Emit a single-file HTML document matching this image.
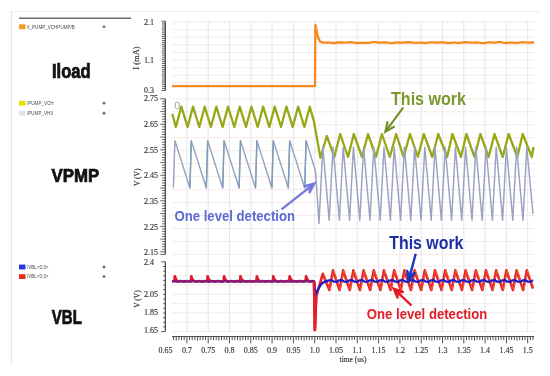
<!DOCTYPE html><html><head><meta charset="utf-8"><style>
html,body{margin:0;padding:0;background:#fff;width:550px;height:376px;overflow:hidden}
svg{display:block;filter:blur(0.3px)}
.big{font-family:"Liberation Sans",sans-serif;font-weight:bold;fill:#111;stroke:#111;stroke-width:0.75px}
.ann{font-family:"Liberation Sans",sans-serif;font-weight:bold}
.tk{font-family:"Liberation Serif",serif;font-size:8px;fill:#333;stroke:#333;stroke-width:0.15px}
.lg{font-family:"Liberation Sans",sans-serif;font-size:5.3px;fill:#4a4a4a}
</style></head><body>
<svg width="550" height="376" viewBox="0 0 550 376">
<line x1="11" y1="11.5" x2="540" y2="11.5" stroke="#eef0f2" stroke-width="1"/>
<line x1="11.5" y1="11" x2="11.5" y2="364" stroke="#e2e5ee" stroke-width="1.2"/>
<line x1="172.0" y1="22.0" x2="535.0" y2="22.0" stroke="#f6e2e2" stroke-width="0.8"/><line x1="172.0" y1="29.6" x2="535.0" y2="29.6" stroke="#f6e2e2" stroke-width="0.8"/><line x1="172.0" y1="37.2" x2="535.0" y2="37.2" stroke="#f6e2e2" stroke-width="0.8"/><line x1="172.0" y1="44.8" x2="535.0" y2="44.8" stroke="#f6e2e2" stroke-width="0.8"/><line x1="172.0" y1="52.5" x2="535.0" y2="52.5" stroke="#f6e2e2" stroke-width="0.8"/><line x1="172.0" y1="60.1" x2="535.0" y2="60.1" stroke="#f6e2e2" stroke-width="0.8"/><line x1="172.0" y1="67.7" x2="535.0" y2="67.7" stroke="#f6e2e2" stroke-width="0.8"/><line x1="172.0" y1="75.3" x2="535.0" y2="75.3" stroke="#f6e2e2" stroke-width="0.8"/><line x1="172.0" y1="82.9" x2="535.0" y2="82.9" stroke="#f6e2e2" stroke-width="0.8"/><line x1="172.0" y1="98.8" x2="535.0" y2="98.8" stroke="#f6e2e2" stroke-width="0.8"/><line x1="172.0" y1="111.8" x2="535.0" y2="111.8" stroke="#f6e2e2" stroke-width="0.8"/><line x1="172.0" y1="124.7" x2="535.0" y2="124.7" stroke="#f6e2e2" stroke-width="0.8"/><line x1="172.0" y1="137.7" x2="535.0" y2="137.7" stroke="#f6e2e2" stroke-width="0.8"/><line x1="172.0" y1="150.7" x2="535.0" y2="150.7" stroke="#f6e2e2" stroke-width="0.8"/><line x1="172.0" y1="163.6" x2="535.0" y2="163.6" stroke="#f6e2e2" stroke-width="0.8"/><line x1="172.0" y1="176.6" x2="535.0" y2="176.6" stroke="#f6e2e2" stroke-width="0.8"/><line x1="172.0" y1="189.6" x2="535.0" y2="189.6" stroke="#f6e2e2" stroke-width="0.8"/><line x1="172.0" y1="202.5" x2="535.0" y2="202.5" stroke="#f6e2e2" stroke-width="0.8"/><line x1="172.0" y1="215.5" x2="535.0" y2="215.5" stroke="#f6e2e2" stroke-width="0.8"/><line x1="172.0" y1="228.5" x2="535.0" y2="228.5" stroke="#f6e2e2" stroke-width="0.8"/><line x1="172.0" y1="241.4" x2="535.0" y2="241.4" stroke="#f6e2e2" stroke-width="0.8"/><line x1="172.0" y1="254.4" x2="535.0" y2="254.4" stroke="#f6e2e2" stroke-width="0.8"/><line x1="172.0" y1="331.6" x2="535.0" y2="331.6" stroke="#f6e2e2" stroke-width="0.8"/><line x1="172.0" y1="322.3" x2="535.0" y2="322.3" stroke="#f6e2e2" stroke-width="0.8"/><line x1="172.0" y1="312.9" x2="535.0" y2="312.9" stroke="#f6e2e2" stroke-width="0.8"/><line x1="172.0" y1="303.6" x2="535.0" y2="303.6" stroke="#f6e2e2" stroke-width="0.8"/><line x1="172.0" y1="294.3" x2="535.0" y2="294.3" stroke="#f6e2e2" stroke-width="0.8"/><line x1="172.0" y1="285.0" x2="535.0" y2="285.0" stroke="#f6e2e2" stroke-width="0.8"/><line x1="172.0" y1="275.6" x2="535.0" y2="275.6" stroke="#f6e2e2" stroke-width="0.8"/><line x1="172.0" y1="266.3" x2="535.0" y2="266.3" stroke="#f6e2e2" stroke-width="0.8"/><line x1="186.9" y1="21.0" x2="186.9" y2="332.1" stroke="#dde1ea" stroke-width="0.8"/><line x1="208.2" y1="21.0" x2="208.2" y2="332.1" stroke="#dde1ea" stroke-width="0.8"/><line x1="229.5" y1="21.0" x2="229.5" y2="332.1" stroke="#dde1ea" stroke-width="0.8"/><line x1="250.8" y1="21.0" x2="250.8" y2="332.1" stroke="#dde1ea" stroke-width="0.8"/><line x1="272.1" y1="21.0" x2="272.1" y2="332.1" stroke="#dde1ea" stroke-width="0.8"/><line x1="293.4" y1="21.0" x2="293.4" y2="332.1" stroke="#dde1ea" stroke-width="0.8"/><line x1="314.7" y1="21.0" x2="314.7" y2="332.1" stroke="#dde1ea" stroke-width="0.8"/><line x1="336.0" y1="21.0" x2="336.0" y2="332.1" stroke="#dde1ea" stroke-width="0.8"/><line x1="357.3" y1="21.0" x2="357.3" y2="332.1" stroke="#dde1ea" stroke-width="0.8"/><line x1="378.6" y1="21.0" x2="378.6" y2="332.1" stroke="#dde1ea" stroke-width="0.8"/><line x1="399.9" y1="21.0" x2="399.9" y2="332.1" stroke="#dde1ea" stroke-width="0.8"/><line x1="421.2" y1="21.0" x2="421.2" y2="332.1" stroke="#dde1ea" stroke-width="0.8"/><line x1="442.5" y1="21.0" x2="442.5" y2="332.1" stroke="#dde1ea" stroke-width="0.8"/><line x1="463.8" y1="21.0" x2="463.8" y2="332.1" stroke="#dde1ea" stroke-width="0.8"/><line x1="485.1" y1="21.0" x2="485.1" y2="332.1" stroke="#dde1ea" stroke-width="0.8"/><line x1="506.4" y1="21.0" x2="506.4" y2="332.1" stroke="#dde1ea" stroke-width="0.8"/><line x1="527.7" y1="21.0" x2="527.7" y2="332.1" stroke="#dde1ea" stroke-width="0.8"/>
<line x1="165.3" y1="21.2" x2="165.3" y2="90.5" stroke="#333" stroke-width="1.1"/><line x1="161.5" y1="21.2" x2="165.3" y2="21.2" stroke="#3a3a3a" stroke-width="0.8"/><line x1="162.0" y1="23.1" x2="165.3" y2="23.1" stroke="#3a3a3a" stroke-width="0.8"/><line x1="162.0" y1="25.0" x2="165.3" y2="25.0" stroke="#3a3a3a" stroke-width="0.8"/><line x1="162.0" y1="27.0" x2="165.3" y2="27.0" stroke="#3a3a3a" stroke-width="0.8"/><line x1="161.5" y1="28.9" x2="165.3" y2="28.9" stroke="#3a3a3a" stroke-width="0.8"/><line x1="162.0" y1="30.8" x2="165.3" y2="30.8" stroke="#3a3a3a" stroke-width="0.8"/><line x1="162.0" y1="32.8" x2="165.3" y2="32.8" stroke="#3a3a3a" stroke-width="0.8"/><line x1="162.0" y1="34.7" x2="165.3" y2="34.7" stroke="#3a3a3a" stroke-width="0.8"/><line x1="161.5" y1="36.6" x2="165.3" y2="36.6" stroke="#3a3a3a" stroke-width="0.8"/><line x1="162.0" y1="38.5" x2="165.3" y2="38.5" stroke="#3a3a3a" stroke-width="0.8"/><line x1="162.0" y1="40.5" x2="165.3" y2="40.5" stroke="#3a3a3a" stroke-width="0.8"/><line x1="162.0" y1="42.4" x2="165.3" y2="42.4" stroke="#3a3a3a" stroke-width="0.8"/><line x1="161.5" y1="44.3" x2="165.3" y2="44.3" stroke="#3a3a3a" stroke-width="0.8"/><line x1="162.0" y1="46.2" x2="165.3" y2="46.2" stroke="#3a3a3a" stroke-width="0.8"/><line x1="162.0" y1="48.1" x2="165.3" y2="48.1" stroke="#3a3a3a" stroke-width="0.8"/><line x1="162.0" y1="50.1" x2="165.3" y2="50.1" stroke="#3a3a3a" stroke-width="0.8"/><line x1="161.5" y1="52.0" x2="165.3" y2="52.0" stroke="#3a3a3a" stroke-width="0.8"/><line x1="162.0" y1="53.9" x2="165.3" y2="53.9" stroke="#3a3a3a" stroke-width="0.8"/><line x1="162.0" y1="55.8" x2="165.3" y2="55.8" stroke="#3a3a3a" stroke-width="0.8"/><line x1="162.0" y1="57.8" x2="165.3" y2="57.8" stroke="#3a3a3a" stroke-width="0.8"/><line x1="161.5" y1="59.7" x2="165.3" y2="59.7" stroke="#3a3a3a" stroke-width="0.8"/><line x1="162.0" y1="61.6" x2="165.3" y2="61.6" stroke="#3a3a3a" stroke-width="0.8"/><line x1="162.0" y1="63.5" x2="165.3" y2="63.5" stroke="#3a3a3a" stroke-width="0.8"/><line x1="162.0" y1="65.5" x2="165.3" y2="65.5" stroke="#3a3a3a" stroke-width="0.8"/><line x1="161.5" y1="67.4" x2="165.3" y2="67.4" stroke="#3a3a3a" stroke-width="0.8"/><line x1="162.0" y1="69.3" x2="165.3" y2="69.3" stroke="#3a3a3a" stroke-width="0.8"/><line x1="162.0" y1="71.2" x2="165.3" y2="71.2" stroke="#3a3a3a" stroke-width="0.8"/><line x1="162.0" y1="73.2" x2="165.3" y2="73.2" stroke="#3a3a3a" stroke-width="0.8"/><line x1="161.5" y1="75.1" x2="165.3" y2="75.1" stroke="#3a3a3a" stroke-width="0.8"/><line x1="162.0" y1="77.0" x2="165.3" y2="77.0" stroke="#3a3a3a" stroke-width="0.8"/><line x1="162.0" y1="79.0" x2="165.3" y2="79.0" stroke="#3a3a3a" stroke-width="0.8"/><line x1="162.0" y1="80.9" x2="165.3" y2="80.9" stroke="#3a3a3a" stroke-width="0.8"/><line x1="161.5" y1="82.8" x2="165.3" y2="82.8" stroke="#3a3a3a" stroke-width="0.8"/><line x1="162.0" y1="84.7" x2="165.3" y2="84.7" stroke="#3a3a3a" stroke-width="0.8"/><line x1="162.0" y1="86.6" x2="165.3" y2="86.6" stroke="#3a3a3a" stroke-width="0.8"/><line x1="162.0" y1="88.6" x2="165.3" y2="88.6" stroke="#3a3a3a" stroke-width="0.8"/><line x1="161.5" y1="90.5" x2="165.3" y2="90.5" stroke="#3a3a3a" stroke-width="0.8"/>
<line x1="165.3" y1="98.8" x2="165.3" y2="254.4" stroke="#333" stroke-width="1.1"/><line x1="160.3" y1="98.8" x2="165.3" y2="98.8" stroke="#3a3a3a" stroke-width="0.8"/><line x1="162.1" y1="101.4" x2="165.3" y2="101.4" stroke="#3a3a3a" stroke-width="0.8"/><line x1="162.1" y1="103.9" x2="165.3" y2="103.9" stroke="#3a3a3a" stroke-width="0.8"/><line x1="162.1" y1="106.5" x2="165.3" y2="106.5" stroke="#3a3a3a" stroke-width="0.8"/><line x1="162.1" y1="109.0" x2="165.3" y2="109.0" stroke="#3a3a3a" stroke-width="0.8"/><line x1="160.3" y1="111.6" x2="165.3" y2="111.6" stroke="#3a3a3a" stroke-width="0.8"/><line x1="162.1" y1="114.1" x2="165.3" y2="114.1" stroke="#3a3a3a" stroke-width="0.8"/><line x1="162.1" y1="116.7" x2="165.3" y2="116.7" stroke="#3a3a3a" stroke-width="0.8"/><line x1="162.1" y1="119.2" x2="165.3" y2="119.2" stroke="#3a3a3a" stroke-width="0.8"/><line x1="162.1" y1="121.8" x2="165.3" y2="121.8" stroke="#3a3a3a" stroke-width="0.8"/><line x1="160.3" y1="124.3" x2="165.3" y2="124.3" stroke="#3a3a3a" stroke-width="0.8"/><line x1="162.1" y1="126.9" x2="165.3" y2="126.9" stroke="#3a3a3a" stroke-width="0.8"/><line x1="162.1" y1="129.4" x2="165.3" y2="129.4" stroke="#3a3a3a" stroke-width="0.8"/><line x1="162.1" y1="132.0" x2="165.3" y2="132.0" stroke="#3a3a3a" stroke-width="0.8"/><line x1="162.1" y1="134.5" x2="165.3" y2="134.5" stroke="#3a3a3a" stroke-width="0.8"/><line x1="160.3" y1="137.1" x2="165.3" y2="137.1" stroke="#3a3a3a" stroke-width="0.8"/><line x1="162.1" y1="139.6" x2="165.3" y2="139.6" stroke="#3a3a3a" stroke-width="0.8"/><line x1="162.1" y1="142.2" x2="165.3" y2="142.2" stroke="#3a3a3a" stroke-width="0.8"/><line x1="162.1" y1="144.7" x2="165.3" y2="144.7" stroke="#3a3a3a" stroke-width="0.8"/><line x1="162.1" y1="147.3" x2="165.3" y2="147.3" stroke="#3a3a3a" stroke-width="0.8"/><line x1="160.3" y1="149.8" x2="165.3" y2="149.8" stroke="#3a3a3a" stroke-width="0.8"/><line x1="162.1" y1="152.4" x2="165.3" y2="152.4" stroke="#3a3a3a" stroke-width="0.8"/><line x1="162.1" y1="154.9" x2="165.3" y2="154.9" stroke="#3a3a3a" stroke-width="0.8"/><line x1="162.1" y1="157.5" x2="165.3" y2="157.5" stroke="#3a3a3a" stroke-width="0.8"/><line x1="162.1" y1="160.0" x2="165.3" y2="160.0" stroke="#3a3a3a" stroke-width="0.8"/><line x1="160.3" y1="162.6" x2="165.3" y2="162.6" stroke="#3a3a3a" stroke-width="0.8"/><line x1="162.1" y1="165.1" x2="165.3" y2="165.1" stroke="#3a3a3a" stroke-width="0.8"/><line x1="162.1" y1="167.7" x2="165.3" y2="167.7" stroke="#3a3a3a" stroke-width="0.8"/><line x1="162.1" y1="170.2" x2="165.3" y2="170.2" stroke="#3a3a3a" stroke-width="0.8"/><line x1="162.1" y1="172.8" x2="165.3" y2="172.8" stroke="#3a3a3a" stroke-width="0.8"/><line x1="160.3" y1="175.3" x2="165.3" y2="175.3" stroke="#3a3a3a" stroke-width="0.8"/><line x1="162.1" y1="177.9" x2="165.3" y2="177.9" stroke="#3a3a3a" stroke-width="0.8"/><line x1="162.1" y1="180.4" x2="165.3" y2="180.4" stroke="#3a3a3a" stroke-width="0.8"/><line x1="162.1" y1="183.0" x2="165.3" y2="183.0" stroke="#3a3a3a" stroke-width="0.8"/><line x1="162.1" y1="185.5" x2="165.3" y2="185.5" stroke="#3a3a3a" stroke-width="0.8"/><line x1="160.3" y1="188.1" x2="165.3" y2="188.1" stroke="#3a3a3a" stroke-width="0.8"/><line x1="162.1" y1="190.6" x2="165.3" y2="190.6" stroke="#3a3a3a" stroke-width="0.8"/><line x1="162.1" y1="193.2" x2="165.3" y2="193.2" stroke="#3a3a3a" stroke-width="0.8"/><line x1="162.1" y1="195.7" x2="165.3" y2="195.7" stroke="#3a3a3a" stroke-width="0.8"/><line x1="162.1" y1="198.3" x2="165.3" y2="198.3" stroke="#3a3a3a" stroke-width="0.8"/><line x1="160.3" y1="200.8" x2="165.3" y2="200.8" stroke="#3a3a3a" stroke-width="0.8"/><line x1="162.1" y1="203.4" x2="165.3" y2="203.4" stroke="#3a3a3a" stroke-width="0.8"/><line x1="162.1" y1="205.9" x2="165.3" y2="205.9" stroke="#3a3a3a" stroke-width="0.8"/><line x1="162.1" y1="208.5" x2="165.3" y2="208.5" stroke="#3a3a3a" stroke-width="0.8"/><line x1="162.1" y1="211.0" x2="165.3" y2="211.0" stroke="#3a3a3a" stroke-width="0.8"/><line x1="160.3" y1="213.6" x2="165.3" y2="213.6" stroke="#3a3a3a" stroke-width="0.8"/><line x1="162.1" y1="216.1" x2="165.3" y2="216.1" stroke="#3a3a3a" stroke-width="0.8"/><line x1="162.1" y1="218.7" x2="165.3" y2="218.7" stroke="#3a3a3a" stroke-width="0.8"/><line x1="162.1" y1="221.2" x2="165.3" y2="221.2" stroke="#3a3a3a" stroke-width="0.8"/><line x1="162.1" y1="223.8" x2="165.3" y2="223.8" stroke="#3a3a3a" stroke-width="0.8"/><line x1="160.3" y1="226.3" x2="165.3" y2="226.3" stroke="#3a3a3a" stroke-width="0.8"/><line x1="162.1" y1="228.9" x2="165.3" y2="228.9" stroke="#3a3a3a" stroke-width="0.8"/><line x1="162.1" y1="231.4" x2="165.3" y2="231.4" stroke="#3a3a3a" stroke-width="0.8"/><line x1="162.1" y1="234.0" x2="165.3" y2="234.0" stroke="#3a3a3a" stroke-width="0.8"/><line x1="162.1" y1="236.5" x2="165.3" y2="236.5" stroke="#3a3a3a" stroke-width="0.8"/><line x1="160.3" y1="239.1" x2="165.3" y2="239.1" stroke="#3a3a3a" stroke-width="0.8"/><line x1="162.1" y1="241.6" x2="165.3" y2="241.6" stroke="#3a3a3a" stroke-width="0.8"/><line x1="162.1" y1="244.2" x2="165.3" y2="244.2" stroke="#3a3a3a" stroke-width="0.8"/><line x1="162.1" y1="246.7" x2="165.3" y2="246.7" stroke="#3a3a3a" stroke-width="0.8"/><line x1="162.1" y1="249.3" x2="165.3" y2="249.3" stroke="#3a3a3a" stroke-width="0.8"/><line x1="160.3" y1="251.8" x2="165.3" y2="251.8" stroke="#3a3a3a" stroke-width="0.8"/><line x1="160.3" y1="254.4" x2="165.3" y2="254.4" stroke="#3a3a3a" stroke-width="0.8"/>
<line x1="165.3" y1="261.8" x2="165.3" y2="331.6" stroke="#333" stroke-width="1.1"/><line x1="161.1" y1="261.8" x2="165.3" y2="261.8" stroke="#3a3a3a" stroke-width="0.8"/><line x1="163.1" y1="266.5" x2="165.3" y2="266.5" stroke="#3a3a3a" stroke-width="0.8"/><line x1="163.1" y1="271.1" x2="165.3" y2="271.1" stroke="#3a3a3a" stroke-width="0.8"/><line x1="163.1" y1="275.8" x2="165.3" y2="275.8" stroke="#3a3a3a" stroke-width="0.8"/><line x1="163.1" y1="280.4" x2="165.3" y2="280.4" stroke="#3a3a3a" stroke-width="0.8"/><line x1="163.1" y1="285.1" x2="165.3" y2="285.1" stroke="#3a3a3a" stroke-width="0.8"/><line x1="163.1" y1="289.7" x2="165.3" y2="289.7" stroke="#3a3a3a" stroke-width="0.8"/><line x1="163.1" y1="294.4" x2="165.3" y2="294.4" stroke="#3a3a3a" stroke-width="0.8"/><line x1="163.1" y1="299.0" x2="165.3" y2="299.0" stroke="#3a3a3a" stroke-width="0.8"/><line x1="163.1" y1="303.7" x2="165.3" y2="303.7" stroke="#3a3a3a" stroke-width="0.8"/><line x1="163.1" y1="308.3" x2="165.3" y2="308.3" stroke="#3a3a3a" stroke-width="0.8"/><line x1="163.1" y1="313.0" x2="165.3" y2="313.0" stroke="#3a3a3a" stroke-width="0.8"/><line x1="163.1" y1="317.6" x2="165.3" y2="317.6" stroke="#3a3a3a" stroke-width="0.8"/><line x1="163.1" y1="322.3" x2="165.3" y2="322.3" stroke="#3a3a3a" stroke-width="0.8"/><line x1="163.1" y1="326.9" x2="165.3" y2="326.9" stroke="#3a3a3a" stroke-width="0.8"/><line x1="161.1" y1="331.6" x2="165.3" y2="331.6" stroke="#3a3a3a" stroke-width="0.8"/>
<line x1="172.0" y1="336.5" x2="534.0" y2="336.5" stroke="#555" stroke-width="1.0"/><line x1="173.6" y1="336.5" x2="173.6" y2="340.1" stroke="#3a3a3a" stroke-width="0.9"/><line x1="176.2" y1="336.5" x2="176.2" y2="340.7" stroke="#3a3a3a" stroke-width="0.9"/><line x1="178.9" y1="336.5" x2="178.9" y2="340.1" stroke="#3a3a3a" stroke-width="0.9"/><line x1="181.6" y1="336.5" x2="181.6" y2="340.1" stroke="#3a3a3a" stroke-width="0.9"/><line x1="184.2" y1="336.5" x2="184.2" y2="340.1" stroke="#3a3a3a" stroke-width="0.9"/><line x1="186.9" y1="336.5" x2="186.9" y2="343.3" stroke="#3a3a3a" stroke-width="0.9"/><line x1="189.6" y1="336.5" x2="189.6" y2="340.1" stroke="#3a3a3a" stroke-width="0.9"/><line x1="192.2" y1="336.5" x2="192.2" y2="340.1" stroke="#3a3a3a" stroke-width="0.9"/><line x1="194.9" y1="336.5" x2="194.9" y2="340.1" stroke="#3a3a3a" stroke-width="0.9"/><line x1="197.6" y1="336.5" x2="197.6" y2="340.7" stroke="#3a3a3a" stroke-width="0.9"/><line x1="200.2" y1="336.5" x2="200.2" y2="340.1" stroke="#3a3a3a" stroke-width="0.9"/><line x1="202.9" y1="336.5" x2="202.9" y2="340.1" stroke="#3a3a3a" stroke-width="0.9"/><line x1="205.5" y1="336.5" x2="205.5" y2="340.1" stroke="#3a3a3a" stroke-width="0.9"/><line x1="208.2" y1="336.5" x2="208.2" y2="343.3" stroke="#3a3a3a" stroke-width="0.9"/><line x1="210.9" y1="336.5" x2="210.9" y2="340.1" stroke="#3a3a3a" stroke-width="0.9"/><line x1="213.5" y1="336.5" x2="213.5" y2="340.1" stroke="#3a3a3a" stroke-width="0.9"/><line x1="216.2" y1="336.5" x2="216.2" y2="340.1" stroke="#3a3a3a" stroke-width="0.9"/><line x1="218.8" y1="336.5" x2="218.8" y2="340.7" stroke="#3a3a3a" stroke-width="0.9"/><line x1="221.5" y1="336.5" x2="221.5" y2="340.1" stroke="#3a3a3a" stroke-width="0.9"/><line x1="224.2" y1="336.5" x2="224.2" y2="340.1" stroke="#3a3a3a" stroke-width="0.9"/><line x1="226.8" y1="336.5" x2="226.8" y2="340.1" stroke="#3a3a3a" stroke-width="0.9"/><line x1="229.5" y1="336.5" x2="229.5" y2="343.3" stroke="#3a3a3a" stroke-width="0.9"/><line x1="232.2" y1="336.5" x2="232.2" y2="340.1" stroke="#3a3a3a" stroke-width="0.9"/><line x1="234.8" y1="336.5" x2="234.8" y2="340.1" stroke="#3a3a3a" stroke-width="0.9"/><line x1="237.5" y1="336.5" x2="237.5" y2="340.1" stroke="#3a3a3a" stroke-width="0.9"/><line x1="240.1" y1="336.5" x2="240.1" y2="340.7" stroke="#3a3a3a" stroke-width="0.9"/><line x1="242.8" y1="336.5" x2="242.8" y2="340.1" stroke="#3a3a3a" stroke-width="0.9"/><line x1="245.5" y1="336.5" x2="245.5" y2="340.1" stroke="#3a3a3a" stroke-width="0.9"/><line x1="248.1" y1="336.5" x2="248.1" y2="340.1" stroke="#3a3a3a" stroke-width="0.9"/><line x1="250.8" y1="336.5" x2="250.8" y2="343.3" stroke="#3a3a3a" stroke-width="0.9"/><line x1="253.5" y1="336.5" x2="253.5" y2="340.1" stroke="#3a3a3a" stroke-width="0.9"/><line x1="256.1" y1="336.5" x2="256.1" y2="340.1" stroke="#3a3a3a" stroke-width="0.9"/><line x1="258.8" y1="336.5" x2="258.8" y2="340.1" stroke="#3a3a3a" stroke-width="0.9"/><line x1="261.4" y1="336.5" x2="261.4" y2="340.7" stroke="#3a3a3a" stroke-width="0.9"/><line x1="264.1" y1="336.5" x2="264.1" y2="340.1" stroke="#3a3a3a" stroke-width="0.9"/><line x1="266.8" y1="336.5" x2="266.8" y2="340.1" stroke="#3a3a3a" stroke-width="0.9"/><line x1="269.4" y1="336.5" x2="269.4" y2="340.1" stroke="#3a3a3a" stroke-width="0.9"/><line x1="272.1" y1="336.5" x2="272.1" y2="343.3" stroke="#3a3a3a" stroke-width="0.9"/><line x1="274.8" y1="336.5" x2="274.8" y2="340.1" stroke="#3a3a3a" stroke-width="0.9"/><line x1="277.4" y1="336.5" x2="277.4" y2="340.1" stroke="#3a3a3a" stroke-width="0.9"/><line x1="280.1" y1="336.5" x2="280.1" y2="340.1" stroke="#3a3a3a" stroke-width="0.9"/><line x1="282.8" y1="336.5" x2="282.8" y2="340.7" stroke="#3a3a3a" stroke-width="0.9"/><line x1="285.4" y1="336.5" x2="285.4" y2="340.1" stroke="#3a3a3a" stroke-width="0.9"/><line x1="288.1" y1="336.5" x2="288.1" y2="340.1" stroke="#3a3a3a" stroke-width="0.9"/><line x1="290.7" y1="336.5" x2="290.7" y2="340.1" stroke="#3a3a3a" stroke-width="0.9"/><line x1="293.4" y1="336.5" x2="293.4" y2="343.3" stroke="#3a3a3a" stroke-width="0.9"/><line x1="296.1" y1="336.5" x2="296.1" y2="340.1" stroke="#3a3a3a" stroke-width="0.9"/><line x1="298.7" y1="336.5" x2="298.7" y2="340.1" stroke="#3a3a3a" stroke-width="0.9"/><line x1="301.4" y1="336.5" x2="301.4" y2="340.1" stroke="#3a3a3a" stroke-width="0.9"/><line x1="304.1" y1="336.5" x2="304.1" y2="340.7" stroke="#3a3a3a" stroke-width="0.9"/><line x1="306.7" y1="336.5" x2="306.7" y2="340.1" stroke="#3a3a3a" stroke-width="0.9"/><line x1="309.4" y1="336.5" x2="309.4" y2="340.1" stroke="#3a3a3a" stroke-width="0.9"/><line x1="312.0" y1="336.5" x2="312.0" y2="340.1" stroke="#3a3a3a" stroke-width="0.9"/><line x1="314.7" y1="336.5" x2="314.7" y2="343.3" stroke="#3a3a3a" stroke-width="0.9"/><line x1="317.4" y1="336.5" x2="317.4" y2="340.1" stroke="#3a3a3a" stroke-width="0.9"/><line x1="320.0" y1="336.5" x2="320.0" y2="340.1" stroke="#3a3a3a" stroke-width="0.9"/><line x1="322.7" y1="336.5" x2="322.7" y2="340.1" stroke="#3a3a3a" stroke-width="0.9"/><line x1="325.4" y1="336.5" x2="325.4" y2="340.7" stroke="#3a3a3a" stroke-width="0.9"/><line x1="328.0" y1="336.5" x2="328.0" y2="340.1" stroke="#3a3a3a" stroke-width="0.9"/><line x1="330.7" y1="336.5" x2="330.7" y2="340.1" stroke="#3a3a3a" stroke-width="0.9"/><line x1="333.3" y1="336.5" x2="333.3" y2="340.1" stroke="#3a3a3a" stroke-width="0.9"/><line x1="336.0" y1="336.5" x2="336.0" y2="343.3" stroke="#3a3a3a" stroke-width="0.9"/><line x1="338.7" y1="336.5" x2="338.7" y2="340.1" stroke="#3a3a3a" stroke-width="0.9"/><line x1="341.3" y1="336.5" x2="341.3" y2="340.1" stroke="#3a3a3a" stroke-width="0.9"/><line x1="344.0" y1="336.5" x2="344.0" y2="340.1" stroke="#3a3a3a" stroke-width="0.9"/><line x1="346.6" y1="336.5" x2="346.6" y2="340.7" stroke="#3a3a3a" stroke-width="0.9"/><line x1="349.3" y1="336.5" x2="349.3" y2="340.1" stroke="#3a3a3a" stroke-width="0.9"/><line x1="352.0" y1="336.5" x2="352.0" y2="340.1" stroke="#3a3a3a" stroke-width="0.9"/><line x1="354.6" y1="336.5" x2="354.6" y2="340.1" stroke="#3a3a3a" stroke-width="0.9"/><line x1="357.3" y1="336.5" x2="357.3" y2="343.3" stroke="#3a3a3a" stroke-width="0.9"/><line x1="360.0" y1="336.5" x2="360.0" y2="340.1" stroke="#3a3a3a" stroke-width="0.9"/><line x1="362.6" y1="336.5" x2="362.6" y2="340.1" stroke="#3a3a3a" stroke-width="0.9"/><line x1="365.3" y1="336.5" x2="365.3" y2="340.1" stroke="#3a3a3a" stroke-width="0.9"/><line x1="367.9" y1="336.5" x2="367.9" y2="340.7" stroke="#3a3a3a" stroke-width="0.9"/><line x1="370.6" y1="336.5" x2="370.6" y2="340.1" stroke="#3a3a3a" stroke-width="0.9"/><line x1="373.3" y1="336.5" x2="373.3" y2="340.1" stroke="#3a3a3a" stroke-width="0.9"/><line x1="375.9" y1="336.5" x2="375.9" y2="340.1" stroke="#3a3a3a" stroke-width="0.9"/><line x1="378.6" y1="336.5" x2="378.6" y2="343.3" stroke="#3a3a3a" stroke-width="0.9"/><line x1="381.3" y1="336.5" x2="381.3" y2="340.1" stroke="#3a3a3a" stroke-width="0.9"/><line x1="383.9" y1="336.5" x2="383.9" y2="340.1" stroke="#3a3a3a" stroke-width="0.9"/><line x1="386.6" y1="336.5" x2="386.6" y2="340.1" stroke="#3a3a3a" stroke-width="0.9"/><line x1="389.2" y1="336.5" x2="389.2" y2="340.7" stroke="#3a3a3a" stroke-width="0.9"/><line x1="391.9" y1="336.5" x2="391.9" y2="340.1" stroke="#3a3a3a" stroke-width="0.9"/><line x1="394.6" y1="336.5" x2="394.6" y2="340.1" stroke="#3a3a3a" stroke-width="0.9"/><line x1="397.2" y1="336.5" x2="397.2" y2="340.1" stroke="#3a3a3a" stroke-width="0.9"/><line x1="399.9" y1="336.5" x2="399.9" y2="343.3" stroke="#3a3a3a" stroke-width="0.9"/><line x1="402.6" y1="336.5" x2="402.6" y2="340.1" stroke="#3a3a3a" stroke-width="0.9"/><line x1="405.2" y1="336.5" x2="405.2" y2="340.1" stroke="#3a3a3a" stroke-width="0.9"/><line x1="407.9" y1="336.5" x2="407.9" y2="340.1" stroke="#3a3a3a" stroke-width="0.9"/><line x1="410.6" y1="336.5" x2="410.6" y2="340.7" stroke="#3a3a3a" stroke-width="0.9"/><line x1="413.2" y1="336.5" x2="413.2" y2="340.1" stroke="#3a3a3a" stroke-width="0.9"/><line x1="415.9" y1="336.5" x2="415.9" y2="340.1" stroke="#3a3a3a" stroke-width="0.9"/><line x1="418.5" y1="336.5" x2="418.5" y2="340.1" stroke="#3a3a3a" stroke-width="0.9"/><line x1="421.2" y1="336.5" x2="421.2" y2="343.3" stroke="#3a3a3a" stroke-width="0.9"/><line x1="423.9" y1="336.5" x2="423.9" y2="340.1" stroke="#3a3a3a" stroke-width="0.9"/><line x1="426.5" y1="336.5" x2="426.5" y2="340.1" stroke="#3a3a3a" stroke-width="0.9"/><line x1="429.2" y1="336.5" x2="429.2" y2="340.1" stroke="#3a3a3a" stroke-width="0.9"/><line x1="431.9" y1="336.5" x2="431.9" y2="340.7" stroke="#3a3a3a" stroke-width="0.9"/><line x1="434.5" y1="336.5" x2="434.5" y2="340.1" stroke="#3a3a3a" stroke-width="0.9"/><line x1="437.2" y1="336.5" x2="437.2" y2="340.1" stroke="#3a3a3a" stroke-width="0.9"/><line x1="439.8" y1="336.5" x2="439.8" y2="340.1" stroke="#3a3a3a" stroke-width="0.9"/><line x1="442.5" y1="336.5" x2="442.5" y2="343.3" stroke="#3a3a3a" stroke-width="0.9"/><line x1="445.2" y1="336.5" x2="445.2" y2="340.1" stroke="#3a3a3a" stroke-width="0.9"/><line x1="447.8" y1="336.5" x2="447.8" y2="340.1" stroke="#3a3a3a" stroke-width="0.9"/><line x1="450.5" y1="336.5" x2="450.5" y2="340.1" stroke="#3a3a3a" stroke-width="0.9"/><line x1="453.1" y1="336.5" x2="453.1" y2="340.7" stroke="#3a3a3a" stroke-width="0.9"/><line x1="455.8" y1="336.5" x2="455.8" y2="340.1" stroke="#3a3a3a" stroke-width="0.9"/><line x1="458.5" y1="336.5" x2="458.5" y2="340.1" stroke="#3a3a3a" stroke-width="0.9"/><line x1="461.1" y1="336.5" x2="461.1" y2="340.1" stroke="#3a3a3a" stroke-width="0.9"/><line x1="463.8" y1="336.5" x2="463.8" y2="343.3" stroke="#3a3a3a" stroke-width="0.9"/><line x1="466.5" y1="336.5" x2="466.5" y2="340.1" stroke="#3a3a3a" stroke-width="0.9"/><line x1="469.1" y1="336.5" x2="469.1" y2="340.1" stroke="#3a3a3a" stroke-width="0.9"/><line x1="471.8" y1="336.5" x2="471.8" y2="340.1" stroke="#3a3a3a" stroke-width="0.9"/><line x1="474.5" y1="336.5" x2="474.5" y2="340.7" stroke="#3a3a3a" stroke-width="0.9"/><line x1="477.1" y1="336.5" x2="477.1" y2="340.1" stroke="#3a3a3a" stroke-width="0.9"/><line x1="479.8" y1="336.5" x2="479.8" y2="340.1" stroke="#3a3a3a" stroke-width="0.9"/><line x1="482.4" y1="336.5" x2="482.4" y2="340.1" stroke="#3a3a3a" stroke-width="0.9"/><line x1="485.1" y1="336.5" x2="485.1" y2="343.3" stroke="#3a3a3a" stroke-width="0.9"/><line x1="487.8" y1="336.5" x2="487.8" y2="340.1" stroke="#3a3a3a" stroke-width="0.9"/><line x1="490.4" y1="336.5" x2="490.4" y2="340.1" stroke="#3a3a3a" stroke-width="0.9"/><line x1="493.1" y1="336.5" x2="493.1" y2="340.1" stroke="#3a3a3a" stroke-width="0.9"/><line x1="495.8" y1="336.5" x2="495.8" y2="340.7" stroke="#3a3a3a" stroke-width="0.9"/><line x1="498.4" y1="336.5" x2="498.4" y2="340.1" stroke="#3a3a3a" stroke-width="0.9"/><line x1="501.1" y1="336.5" x2="501.1" y2="340.1" stroke="#3a3a3a" stroke-width="0.9"/><line x1="503.7" y1="336.5" x2="503.7" y2="340.1" stroke="#3a3a3a" stroke-width="0.9"/><line x1="506.4" y1="336.5" x2="506.4" y2="343.3" stroke="#3a3a3a" stroke-width="0.9"/><line x1="509.1" y1="336.5" x2="509.1" y2="340.1" stroke="#3a3a3a" stroke-width="0.9"/><line x1="511.7" y1="336.5" x2="511.7" y2="340.1" stroke="#3a3a3a" stroke-width="0.9"/><line x1="514.4" y1="336.5" x2="514.4" y2="340.1" stroke="#3a3a3a" stroke-width="0.9"/><line x1="517.0" y1="336.5" x2="517.0" y2="340.7" stroke="#3a3a3a" stroke-width="0.9"/><line x1="519.7" y1="336.5" x2="519.7" y2="340.1" stroke="#3a3a3a" stroke-width="0.9"/><line x1="522.4" y1="336.5" x2="522.4" y2="340.1" stroke="#3a3a3a" stroke-width="0.9"/><line x1="525.0" y1="336.5" x2="525.0" y2="340.1" stroke="#3a3a3a" stroke-width="0.9"/><line x1="527.7" y1="336.5" x2="527.7" y2="343.3" stroke="#3a3a3a" stroke-width="0.9"/><line x1="530.4" y1="336.5" x2="530.4" y2="340.1" stroke="#3a3a3a" stroke-width="0.9"/><line x1="533.0" y1="336.5" x2="533.0" y2="340.1" stroke="#3a3a3a" stroke-width="0.9"/>
<text class="tk" x="165.6" y="353" text-anchor="middle">0.65</text><text class="tk" x="186.9" y="353" text-anchor="middle">0.7</text><text class="tk" x="208.2" y="353" text-anchor="middle">0.75</text><text class="tk" x="229.5" y="353" text-anchor="middle">0.8</text><text class="tk" x="250.8" y="353" text-anchor="middle">0.85</text><text class="tk" x="272.1" y="353" text-anchor="middle">0.9</text><text class="tk" x="293.4" y="353" text-anchor="middle">0.95</text><text class="tk" x="314.7" y="353" text-anchor="middle">1.0</text><text class="tk" x="336.0" y="353" text-anchor="middle">1.05</text><text class="tk" x="357.3" y="353" text-anchor="middle">1.1</text><text class="tk" x="378.6" y="353" text-anchor="middle">1.15</text><text class="tk" x="399.9" y="353" text-anchor="middle">1.2</text><text class="tk" x="421.2" y="353" text-anchor="middle">1.25</text><text class="tk" x="442.5" y="353" text-anchor="middle">1.3</text><text class="tk" x="463.8" y="353" text-anchor="middle">1.35</text><text class="tk" x="485.1" y="353" text-anchor="middle">1.4</text><text class="tk" x="506.4" y="353" text-anchor="middle">1.45</text><text class="tk" x="527.7" y="353" text-anchor="middle">1.5</text>
<text class="tk" x="353" y="362" text-anchor="middle" style="font-size:7.5px">time (us)</text>
<text class="tk" x="144" y="25.3">2.1</text>
<text class="tk" x="144" y="63.0">1.1</text>
<text class="tk" x="144" y="92.5">0.3</text>
<text class="tk" x="144" y="101.2">2.75</text>
<text class="tk" x="144" y="127.0">2.65</text>
<text class="tk" x="144" y="152.6">2.55</text>
<text class="tk" x="144" y="178.2">2.45</text>
<text class="tk" x="144" y="204.3">2.35</text>
<text class="tk" x="144" y="230.1">2.25</text>
<text class="tk" x="144" y="255.1">2.15</text>
<text class="tk" x="144" y="265.0">2.4</text>
<text class="tk" x="144" y="297.2">2.05</text>
<text class="tk" x="144" y="315.3">1.85</text>
<text class="tk" x="144" y="333.1">1.65</text>
<text class="tk" transform="translate(139.3,58) rotate(-90)" text-anchor="middle" style="font-size:8.5px">I (mA)</text>
<text class="tk" transform="translate(139.6,177.3) rotate(-90)" text-anchor="middle" style="font-size:7.5px">V (V)</text>
<text class="tk" transform="translate(139.6,299) rotate(-90)" text-anchor="middle" style="font-size:7.5px">V (V)</text>
<line x1="19" y1="18.2" x2="131" y2="18.2" stroke="#6e6670" stroke-width="1.6"/>
<rect x="19" y="24.4" width="6.5" height="4.8" fill="#f39a22"/>
<text class="lg" transform="translate(27,28.6) scale(0.86,1)">/I_PUMP_VCHPUMP/B</text>
<circle cx="104" cy="26.8" r="1.4" fill="#6a6a72"/>
<rect x="19" y="100.8" width="6.5" height="4.8" fill="#e8e000"/>
<text class="lg" transform="translate(27,105.0) scale(0.86,1)">/PUMP_VCH</text>
<circle cx="104" cy="103.2" r="1.4" fill="#6a6a72"/>
<rect x="19" y="110.8" width="6.5" height="4.8" fill="#dbe4ef"/>
<text class="lg" transform="translate(27,115.0) scale(0.86,1)">/PUMP_VH3</text>
<circle cx="104" cy="113.2" r="1.4" fill="#6a6a72"/>
<rect x="19" y="264.6" width="6.5" height="4.8" fill="#2233dd"/>
<text class="lg" transform="translate(27,268.8) scale(0.86,1)">/VBL&lt;0:3&gt;</text>
<circle cx="104" cy="267.0" r="1.4" fill="#6a6a72"/>
<rect x="19" y="274.2" width="6.5" height="4.8" fill="#e62a1e"/>
<text class="lg" transform="translate(27,278.4) scale(0.86,1)">/VBL&lt;0:3&gt;</text>
<circle cx="104" cy="276.6" r="1.4" fill="#6a6a72"/>
<text class="big" transform="translate(52.0,78.0) scale(0.847,1)" style="font-size:19.5px" >Iload</text>
<text class="big" transform="translate(51.5,181.8) scale(0.887,1)" style="font-size:19px" >VPMP</text>
<text class="big" transform="translate(51.8,324.2) scale(0.77,1)" style="font-size:19.5px" >VBL</text>
<polyline points="172.0,86.2 315.0,86.0 315.4,25.0 316.5,30.0 318.0,37.0 320.0,41.5 323.0,42.6 325.5,42.7 328.0,42.5 330.5,42.7 333.0,43.0 335.5,43.0 338.0,42.5 340.5,42.3 343.0,42.5 345.5,42.6 348.0,42.4 350.5,42.2 353.0,42.4 355.5,42.8 358.0,43.0 360.5,42.8 363.0,42.6 365.5,42.8 368.0,42.9 370.5,42.6 373.0,42.2 375.5,42.2 378.0,42.5 380.5,42.7 383.0,42.5 385.5,42.4 388.0,42.7 390.5,43.1 393.0,43.0 395.5,42.6 398.0,42.4 400.5,42.6 403.0,42.7 405.5,42.4 408.0,42.1 410.5,42.3 413.0,42.7 415.5,42.9 418.0,42.6 420.5,42.6 423.0,42.9 425.5,43.0 428.0,42.7 430.5,42.3 433.0,42.3 435.5,42.5 438.0,42.6 440.5,42.3 443.0,42.3 445.5,42.7 448.0,43.0 450.5,42.9 453.0,42.6 455.5,42.6 458.0,42.8 460.5,42.8 463.0,42.4 465.5,42.1 468.0,42.3 470.5,42.7 473.0,42.7 475.5,42.5 478.0,42.6 480.5,42.9 483.0,43.1 485.5,42.8 488.0,42.4 490.5,42.4 493.0,42.6 495.5,42.5 498.0,42.2 500.5,42.2 503.0,42.6 505.5,42.9 508.0,42.8 510.5,42.6 513.0,42.7 515.5,42.9 518.0,42.9 520.5,42.4 523.0,42.2 525.5,42.4 528.0,42.6 530.5,42.5 533.0,42.4 534.0,42.5" fill="none" stroke="#f38a22" stroke-width="2.3" stroke-linejoin="round"/>
<polyline points="172.3,113.8 175.9,127.0 181.3,106.7 187.6,127.0 193.0,106.7 199.3,127.0 204.7,106.7 210.9,127.0 216.3,106.7 222.6,127.0 228.0,106.7 234.3,127.0 239.7,106.7 246.0,127.0 251.4,106.7 257.7,127.0 263.1,106.7 269.3,127.0 274.7,106.7 281.0,127.0 286.4,106.7 292.7,127.0 298.1,106.7 304.4,127.0 309.8,106.7 314.0,121.6 320.4,157.8 326.8,136.0 334.3,157.0 340.2,134.0 348.0,157.0 353.8,134.0 362.0,157.0 368.0,134.0 376.0,157.0 381.9,134.0 389.8,157.0 396.2,134.0 403.6,157.0 410.0,134.0 417.9,157.0 423.8,134.0 432.3,157.0 438.3,134.0 447.2,157.0 452.4,134.0 461.0,157.0 466.4,134.0 474.5,157.0 480.4,134.0 488.7,157.0 494.5,134.0 502.7,157.0 508.7,134.0 517.3,157.0 522.7,134.0 531.8,157.0 533.5,147.0" fill="none" stroke="#96a816" stroke-width="2.3" stroke-linejoin="round"/>
<rect x="175.3" y="102.3" width="4" height="6.5" rx="1.5" fill="none" stroke="#999" stroke-width="0.9"/>
<polyline points="173.4,187.5 174.9,140.6 189.9,188.0 191.3,140.6 206.3,188.0 207.7,140.6 222.7,188.0 224.1,140.6 239.1,188.0 240.5,140.6 255.5,188.0 256.9,140.6 271.9,188.0 273.3,140.6 288.3,188.0 289.7,140.6 304.7,188.0 306.1,140.6 315.5,171.0 319.0,223.5 322.8,147.3 329.2,220.2 333.0,147.3 339.4,220.2 343.2,147.3 349.6,220.2 353.4,147.3 359.8,220.2 363.6,147.3 370.0,220.2 373.8,147.3 380.2,220.2 384.0,147.3 390.4,220.2 394.2,147.3 400.6,220.2 404.4,147.3 410.8,220.2 414.6,147.3 421.0,220.2 424.8,147.3 431.2,220.2 435.0,147.3 441.4,220.2 445.2,147.3 451.6,220.2 455.4,147.3 461.8,220.2 465.6,147.3 472.0,220.2 475.8,147.3 482.2,220.2 486.0,147.3 492.4,220.2 496.2,147.3 502.6,220.2 506.4,147.3 512.8,220.2 516.6,147.3 523.0,220.2 526.8,147.3 533.0,214.0" fill="none" stroke="#99a2c0" stroke-width="1.45" stroke-linejoin="round"/>
<line x1="189.9" y1="188" x2="191.3" y2="140.8" stroke="#7c9cb8" stroke-width="1.3"/><line x1="206.3" y1="188" x2="207.7" y2="140.8" stroke="#7c9cb8" stroke-width="1.3"/><line x1="222.7" y1="188" x2="224.1" y2="140.8" stroke="#7c9cb8" stroke-width="1.3"/><line x1="239.1" y1="188" x2="240.5" y2="140.8" stroke="#7c9cb8" stroke-width="1.3"/><line x1="255.5" y1="188" x2="256.9" y2="140.8" stroke="#7c9cb8" stroke-width="1.3"/><line x1="271.9" y1="188" x2="273.3" y2="140.8" stroke="#7c9cb8" stroke-width="1.3"/><line x1="288.3" y1="188" x2="289.7" y2="140.8" stroke="#7c9cb8" stroke-width="1.3"/><line x1="304.7" y1="188" x2="306.1" y2="140.8" stroke="#7c9cb8" stroke-width="1.3"/>
<polyline points="172.3,281.2 174.5,281.2 174.9,276.4 176.1,279.8 177.9,281.2 190.9,281.2 191.3,276.4 192.5,279.8 194.3,281.2 207.3,281.2 207.7,276.4 208.9,279.8 210.7,281.2 223.7,281.2 224.1,276.4 225.3,279.8 227.1,281.2 240.1,281.2 240.5,276.4 241.7,279.8 243.5,281.2 256.5,281.2 256.9,276.4 258.1,279.8 259.9,281.2 272.9,281.2 273.3,276.4 274.5,279.8 276.3,281.2 289.3,281.2 289.7,276.4 290.9,279.8 292.7,281.2 305.7,281.2 306.1,276.4 307.3,279.8 309.1,281.2 314.0,281.4 314.9,330.0 316.2,296.5 322.8,273.8 329.4,290.0 333.0,270.4 339.6,290.0 343.2,270.4 349.8,290.0 353.4,270.4 360.0,290.0 363.6,270.4 370.2,290.0 373.8,270.4 380.4,290.0 384.0,270.4 390.6,290.0 394.2,270.4 400.8,290.0 404.4,270.4 411.0,290.0 414.6,270.4 421.2,290.0 424.8,270.4 431.4,290.0 435.0,270.4 441.6,290.0 445.2,270.4 451.8,290.0 455.4,270.4 462.0,290.0 465.6,270.4 472.2,290.0 475.8,270.4 482.4,290.0 486.0,270.4 492.6,290.0 496.2,270.4 502.8,290.0 506.4,270.4 513.0,290.0 516.6,270.4 523.2,290.0 526.8,270.4 533.0,288.5" fill="none" stroke="#e61e28" stroke-width="2.6" stroke-linejoin="round"/>
<polyline points="323.4,273.8 330.0,290.0 333.6,270.4 340.2,290.0 343.8,270.4 350.4,290.0 354.0,270.4 360.6,290.0 364.2,270.4 370.8,290.0 374.4,270.4 381.0,290.0 384.6,270.4 391.2,290.0 394.8,270.4 401.4,290.0 405.0,270.4 411.6,290.0 415.2,270.4 421.8,290.0 425.4,270.4 432.0,290.0 435.6,270.4 442.2,290.0 445.8,270.4 452.4,290.0 456.0,270.4 462.6,290.0 466.2,270.4 472.8,290.0 476.4,270.4 483.0,290.0 486.6,270.4 493.2,290.0 496.8,270.4 503.4,290.0 507.0,270.4 513.6,290.0 517.2,270.4 523.8,290.0 527.4,270.4 533.6,288.5" fill="none" stroke="#f07a30" stroke-width="0.8" stroke-linejoin="round" opacity="0.8"/>
<polyline points="172.3,281.3 174.4,280.8 176.4,281.5 178.5,281.6 180.5,280.8 182.6,281.5 184.6,281.6 186.7,280.8 188.7,281.4 190.8,281.7 192.8,280.8 194.9,281.3 196.9,281.7 199.0,280.9 201.0,281.3 203.1,281.8 205.1,280.9 207.2,281.2 209.2,281.8 211.3,281.0 213.3,281.1 215.4,281.8 217.4,281.0 219.5,281.1 221.5,281.8 223.6,281.1 225.6,281.0 227.7,281.8 229.7,281.1 231.8,281.0 233.8,281.8 235.9,281.2 237.9,280.9 240.0,281.8 242.0,281.3 244.1,280.9 246.1,281.7 248.2,281.3 250.2,280.8 252.3,281.7 254.3,281.4 256.4,280.8 258.4,281.7 260.5,281.4 262.5,280.8 264.6,281.6 266.6,281.5 268.7,280.8 270.7,281.5 272.8,281.6 274.8,280.8 276.9,281.5 278.9,281.6 281.0,280.8 283.0,281.4 285.1,281.7 287.1,280.8 289.2,281.4 291.2,281.7 293.3,280.9 295.3,281.3 297.4,281.7 299.4,280.9 301.5,281.2 303.5,281.8 305.6,280.9 307.6,281.2 309.7,281.8 311.7,281.0 313.8,281.1 314.5,283.0 315.3,294.8 317.0,291.5 319.0,287.5 321.0,284.5 323.0,282.6 325.0,281.6 326.5,281.2 329.1,280.3 331.6,280.2 334.2,281.7 336.7,281.8 339.3,280.3 341.8,280.2 344.4,281.7 346.9,281.8 349.5,280.3 352.0,280.2 354.6,281.7 357.1,281.8 359.7,280.3 362.2,280.2 364.8,281.7 367.3,281.8 369.9,280.3 372.4,280.2 375.0,281.7 377.5,281.8 380.1,280.3 382.6,280.2 385.2,281.7 387.7,281.8 390.3,280.3 392.8,280.2 395.4,281.7 397.9,281.8 400.5,280.3 403.0,280.2 405.6,281.7 408.1,281.8 410.7,280.3 413.2,280.2 415.8,281.7 418.3,281.8 420.9,280.3 423.4,280.2 426.0,281.7 428.5,281.8 431.1,280.3 433.6,280.2 436.2,281.7 438.7,281.8 441.3,280.3 443.8,280.2 446.4,281.7 448.9,281.8 451.5,280.3 454.0,280.2 456.6,281.7 459.1,281.8 461.7,280.3 464.2,280.2 466.8,281.7 469.3,281.8 471.9,280.3 474.4,280.2 477.0,281.7 479.5,281.8 482.1,280.3 484.6,280.2 487.2,281.7 489.7,281.8 492.3,280.3 494.8,280.2 497.4,281.7 499.9,281.8 502.5,280.3 505.0,280.2 507.6,281.7 510.1,281.8 512.7,280.3 515.2,280.2 517.8,281.7 520.3,281.8 522.9,280.3 525.4,280.2 528.0,281.7 530.5,281.8 533.0,280.3" fill="none" stroke="#1a1ec8" stroke-width="2.3" stroke-linejoin="round"/>
<polyline points="172.3,281.2 174.5,281.2 174.9,276.4 176.1,279.8 177.9,281.2 190.9,281.2 191.3,276.4 192.5,279.8 194.3,281.2 207.3,281.2 207.7,276.4 208.9,279.8 210.7,281.2 223.7,281.2 224.1,276.4 225.3,279.8 227.1,281.2 240.1,281.2 240.5,276.4 241.7,279.8 243.5,281.2 256.5,281.2 256.9,276.4 258.1,279.8 259.9,281.2 272.9,281.2 273.3,276.4 274.5,279.8 276.3,281.2 289.3,281.2 289.7,276.4 290.9,279.8 292.7,281.2 305.7,281.2 306.1,276.4 307.3,279.8 309.1,281.2 314.0,281.4 314.9,330.0 316.2,296.5" fill="none" stroke="#d8183c" stroke-width="2.4" stroke-linejoin="round" opacity="0.6"/>
<polyline points="314,281.4 314.9,330 316.2,296.5" fill="none" stroke="#e61e28" stroke-width="2.4" stroke-linejoin="round"/>
<text class="ann" transform="translate(391.0,104.6) scale(0.894,1)" style="font-size:18px" fill="#7a9a2e">This work</text>
<line x1="403.3" y1="107.4" x2="386.0" y2="130.8" stroke="#6e8c24" stroke-width="2.0"/>
<polyline points="394.0,126.9 385.3,131.8 387.5,122.0" fill="#6e8c24" fill-opacity="0.15" stroke="#6e8c24" stroke-width="2.0" stroke-linejoin="miter" stroke-miterlimit="6" stroke-linecap="round"/>
<text class="ann" transform="translate(174.5,221.2) scale(0.877,1)" style="font-size:15px" fill="#5b6bd3">One level detection</text>
<line x1="281.5" y1="209.3" x2="313.4" y2="184.3" stroke="#7478dc" stroke-width="2.3"/>
<polyline points="304.6,186.0 314.3,183.6 309.6,192.4" fill="#7478dc" fill-opacity="0.6" stroke="#7478dc" stroke-width="2.3" stroke-linejoin="miter" stroke-miterlimit="6" stroke-linecap="round"/>
<text class="ann" transform="translate(389.2,248.8) scale(0.909,1)" style="font-size:17.5px" fill="#1c2fa6">This work</text>
<line x1="415.7" y1="253.7" x2="409.0" y2="279.1" stroke="#1a34c4" stroke-width="2.4"/>
<polyline points="414.6,272.9 408.7,280.3 407.2,270.9" fill="#1a34c4" fill-opacity="0.7" stroke="#1a34c4" stroke-width="2.4" stroke-linejoin="miter" stroke-miterlimit="6" stroke-linecap="round"/>
<text class="ann" transform="translate(366.8,318.6) scale(0.877,1)" style="font-size:15px" fill="#e0202a">One level detection</text>
<line x1="411.5" y1="305.5" x2="394.7" y2="289.6" stroke="#e41820" stroke-width="2.4"/>
<polyline points="397.5,297.6 393.8,288.8 402.8,291.9" fill="#e41820" fill-opacity="0.7" stroke="#e41820" stroke-width="2.4" stroke-linejoin="miter" stroke-miterlimit="6" stroke-linecap="round"/>
</svg></body></html>
